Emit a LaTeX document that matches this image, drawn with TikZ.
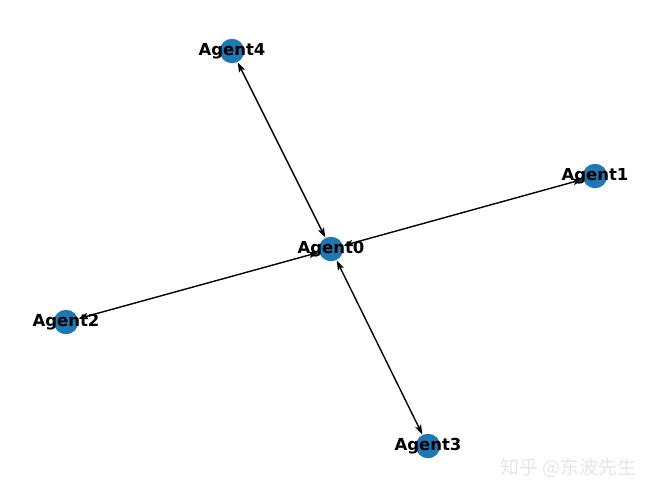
\documentclass[tikz,border=0pt]{standalone}
\usepackage{fontspec}
\setmainfont{DejaVu Sans}
\newfontfamily\cjk{Noto Sans CJK SC}
\usetikzlibrary{arrows.meta}
\definecolor{nxblue}{HTML}{1F77B4}
\begin{document}
\begin{tikzpicture}[x=1pt,y=-1pt,
  agent/.style={circle,fill=nxblue,minimum size=24.5pt,inner sep=0pt},
  lbl/.style={font=\fontsize{16.5}{18}\selectfont\bfseries,text=black,inner sep=0pt},
  edge/.style={draw=black,line width=1.4pt,{Stealth[length=9.5pt,width=6.5pt,inset=2pt]}-{Stealth[length=9.5pt,width=6.5pt,inset=2pt]},shorten <=0.5pt,shorten >=0.5pt},
  wm/.style={font=\cjk\fontsize{19}{21}\selectfont,text=black!10,inner sep=0pt}]
\useasboundingbox (0,0) rectangle (660,499);
\node[agent] (a0) at (331,249) {};
\node[agent] (a1) at (595,176) {};
\node[agent] (a2) at (66,322) {};
\node[agent] (a3) at (428,446) {};
\node[agent] (a4) at (232,51) {};
\draw[edge] (a0) -- (a1);
\draw[edge] (a0) -- (a2);
\draw[edge] (a0) -- (a3);
\draw[edge] (a0) -- (a4);
\node[lbl] (t0) at (a0) {Agent0};
\node[lbl] (t1) at (a1) {Agent1};
\node[lbl] (t2) at (a2) {Agent2};
\node[lbl] (t3) at (a3) {Agent3};
\node[lbl] (t4) at (a4) {Agent4};
\node[wm,anchor=west] (w) at (500,468) {知乎 @东波先生};
\end{tikzpicture}
\end{document}
